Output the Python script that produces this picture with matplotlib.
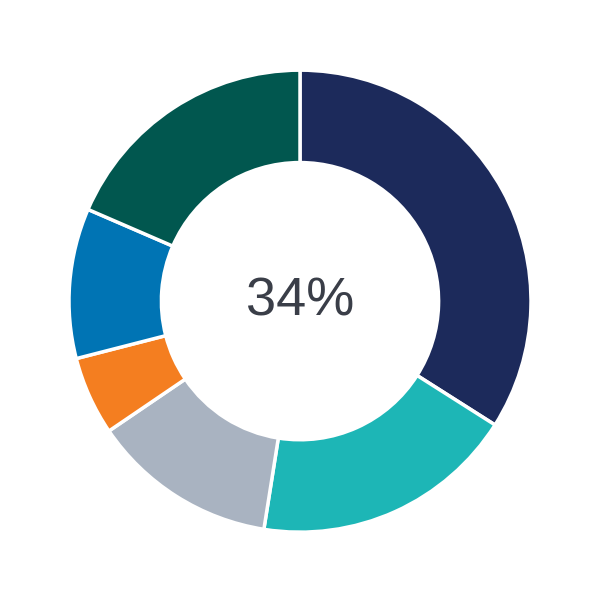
import matplotlib
matplotlib.use("Agg")
import matplotlib.pyplot as plt

labels = ["A", "B", "C", "D", "E", "F"]
values = [34, 18.5, 13, 5.5, 10.5, 18.5]
colors = ["#1c2a5b", "#1db6b6", "#a9b3c1", "#f47e20", "#0074b4", "#01574f"]
center_label = "34%"

fig = plt.figure(figsize=(6, 6), dpi=100)
ax = fig.add_axes([0, 0, 1, 1])
ax.pie(values, colors=colors, startangle=90, counterclock=False, radius=1,
       wedgeprops=dict(width=0.40, edgecolor="white", linewidth=2.5))
lim = 300 / 231
ax.set_xlim(-lim, lim)
ax.set_ylim(-lim + 0.005, lim + 0.005)
ax.set_aspect("equal")
ax.axis("off")
ax.text(0, 0.0, center_label, ha="center", va="center", fontsize=39,
        color="#3a3e48", family="Liberation Sans")
fig.savefig("out.png", dpi=100)
